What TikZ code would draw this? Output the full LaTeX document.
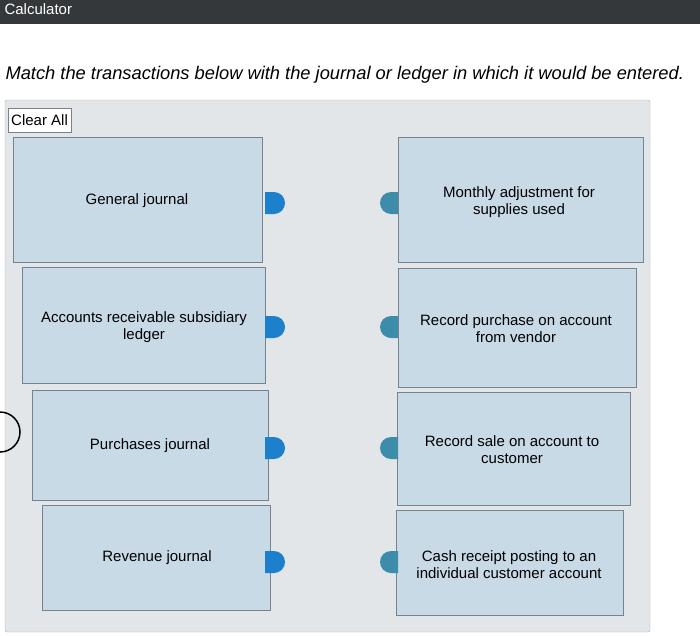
\documentclass[tikz,border=0pt]{standalone}
\usepackage{fontspec}
\setmainfont{Liberation Sans}
\usetikzlibrary{positioning}
\definecolor{barbg}{RGB}{52,56,58}
\definecolor{panelbg}{RGB}{226,230,232}
\definecolor{boxbg}{RGB}{200,218,230}
\definecolor{boxline}{RGB}{120,130,140}
\definecolor{tabblue}{RGB}{28,128,205}
\definecolor{tabteal}{RGB}{60,140,170}
\tikzset{
    % Answer box style
    matchbox/.style={
        rectangle, draw=boxline, fill=boxbg
    },
    % Box label style
    boxtext/.style={
        align=center, font=\fontsize{15}{17}\selectfont
    },
    % Tab styles
    tabright/.style={fill=tabblue},
    tableft/.style={fill=tabteal}
}
\begin{document}
\begin{tikzpicture}[x=1pt,y=-1pt]
\useasboundingbox (0,0) rectangle (700,635);
\fill[white] (0,0) rectangle (700,635);

% Title bar
\fill[barbg] (0,0) rectangle (700,24);
\node[anchor=west, text=white, font=\fontsize{15}{17}\selectfont] (calc) at (1,9) {Calculator};

\node[anchor=west, font=\fontsize{18.3}{21}\selectfont\itshape] (title) at (2,75)
    {Match the transactions below with the journal or ledger in which it would be entered.};

% Panel
\draw[draw=boxline!60, fill=panelbg, rounded corners=2pt] (5,100) rectangle (650,632);
\node[draw=boxline, fill=white, anchor=west, font=\fontsize{15}{17}\selectfont, minimum height=24pt, inner sep=3pt] (clear) at (8,120) {Clear All};

% Left column
\draw[matchbox] (13,137) rectangle (262,262);
\node[boxtext] (gj) at (137,201) {General journal};
\draw[matchbox] (22,267) rectangle (265,383);
\node[boxtext] (ar) at (144,327) {Accounts receivable subsidiary\\ledger};
\draw[matchbox] (32,390) rectangle (268,500);
\node[boxtext] (pj) at (150,446) {Purchases journal};
\draw[matchbox] (42,505) rectangle (270,610);
\node[boxtext] (rj) at (157,558) {Revenue journal};

% Right column
\draw[matchbox] (398,137) rectangle (643,262);
\node[boxtext] (ms) at (519,202) {Monthly adjustment for\\supplies used};
\draw[matchbox] (398,268) rectangle (636,387);
\node[boxtext] (rp) at (516,329) {Record purchase on account\\from vendor};
\draw[matchbox] (397,392) rectangle (630,505);
\node[boxtext] (rs) at (512,450) {Record sale on account to\\customer};
\draw[matchbox] (396,510) rectangle (623,615);
\node[boxtext] (cr) at (509,565) {Cash receipt posting to an\\individual customer account};

% Tabs
\foreach \y in {203,327,448,562}{
    \fill[tabright] (265,\y-11) -- (274,\y-11) arc[start angle=-90, end angle=90, radius=11] -- (265,\y+11) -- cycle;
    \fill[tableft] (398,\y-11) -- (391,\y-11) arc[start angle=-90, end angle=-270, radius=11] -- (398,\y+11) -- cycle;
}

% Partial circle at left edge
\draw[line width=1.5pt] (0,412) arc[start angle=-90, end angle=90, radius=20];
\end{tikzpicture}
\end{document}
